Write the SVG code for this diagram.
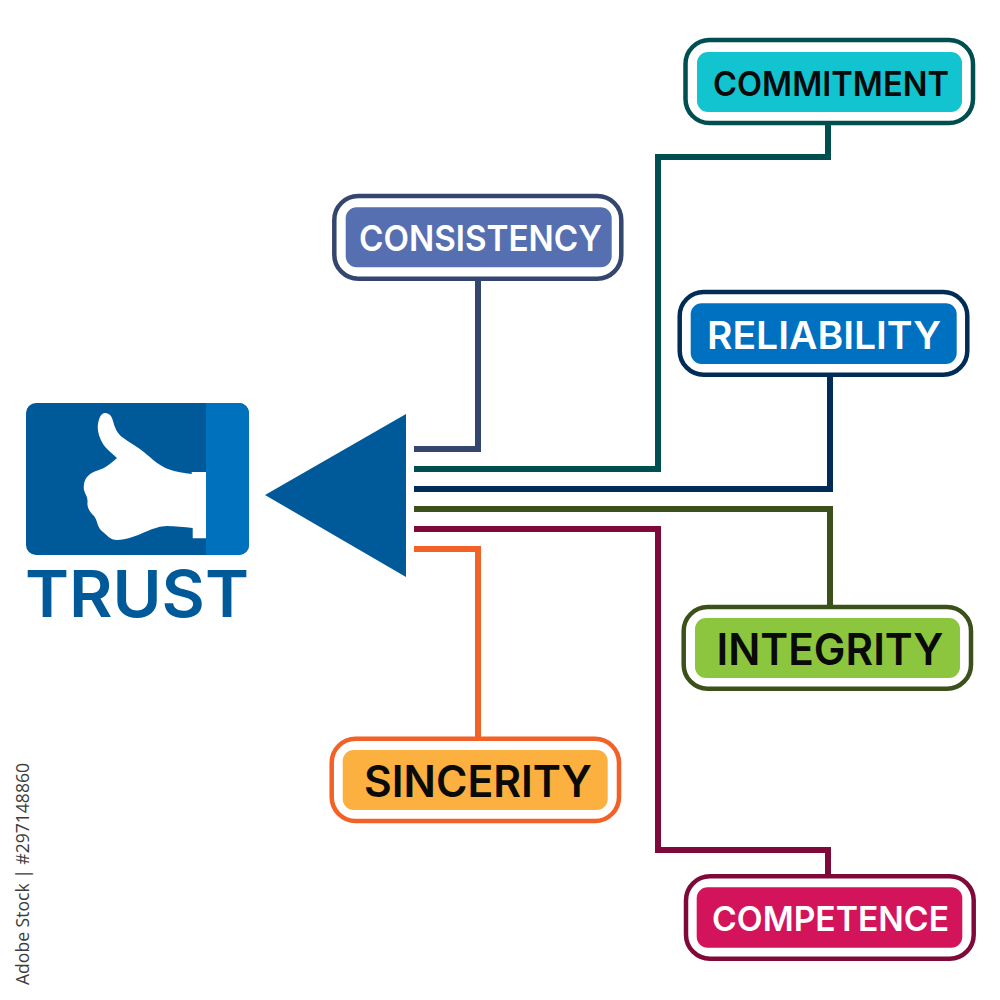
<svg xmlns="http://www.w3.org/2000/svg" width="1000" height="1000" viewBox="0 0 1000 1000">
<style>
.c{fill:none;stroke-width:6;stroke-linejoin:miter}
.o{fill:#fff;stroke-width:4.500}
.l{font-family:"Inter","Liberation Sans",sans-serif;font-weight:600}
.k{fill:#0a0a0a}.w{fill:#fff}
</style>
<rect width="1000" height="1000" fill="#fff"/>
<text transform="translate(29,985) rotate(-90)" font-family="'Open Sans','Liberation Sans',sans-serif" font-size="19" fill="#3c3c3c" textLength="222" lengthAdjust="spacingAndGlyphs">Adobe Stock | #297148860</text>
<g id="trust">
<rect x="26" y="403" width="223" height="152" rx="10" fill="#005a9a"/>
<path d="M206 403H239a10 10 0 0 1 10 10V545a10 10 0 0 1-10 10H206Z" fill="#0071bc"/>
<path d="M105 413C110 413 112 417 113 421C115 428 117 433 122 437C130 443 138 447 145 453C152 459 160 466 168 469C176 472 184 473 191.700 474V472H206V538.300H192.700V528C184 527 175 526 167 526C160 526 152 529 145 532C136 536 126 540 117 540C110 540 107 535 103 532C97 528 98 521 94 516C89 511 87 507 87.500 502C88 497 85 494 84 490C83 484 85 478 89 475C95 470 102 470 107 466C111 463 114 461 117 458C112 453 106 449 103 444C99 437 97 430 98 424C99 418 101 413 105 413Z" fill="#fff"/>
<text x="25" y="617" font-family="Inter,'Liberation Sans',sans-serif" font-size="65" font-weight="600" fill="#005a9a" textLength="224" lengthAdjust="spacingAndGlyphs">TRUST</text>
</g>
<polygon id="pointer" points="265,495 406,414 406,577" fill="#005a9a"/>
<g id="connectors">
<path class="c" stroke="#34466f" d="M414 449H478V279"/>
<path class="c" stroke="#004f50" d="M414 469H658V157H828V124"/>
<path class="c" stroke="#012c55" d="M414 489H830V375"/>
<path class="c" stroke="#3b5119" d="M414 509H830V606"/>
<path class="c" stroke="#7f0a3a" d="M414 529H658V850H828V876"/>
<path class="c" stroke="#f26125" d="M414 549H478V738"/>
</g>
<g id="commitment">
<rect class="o" x="685.500" y="40" width="287.500" height="83" rx="24" stroke="#004f50"/>
<rect x="697" y="52" width="265" height="60" rx="11" fill="#12c4d0"/>
<text class="l k" font-size="34" x="713" y="95.500" textLength="236" lengthAdjust="spacingAndGlyphs">COMMITMENT</text>
</g>
<g id="consistency">
<rect class="o" x="334.300" y="196" width="287" height="82.700" rx="24" stroke="#34466f"/>
<rect x="345.700" y="207.300" width="266" height="60" rx="11" fill="#566fb0"/>
<text class="l w" font-size="36" x="359" y="250.500" textLength="243" lengthAdjust="spacingAndGlyphs">CONSISTENCY</text>
</g>
<g id="reliability">
<rect class="o" x="679.700" y="292" width="287.600" height="82.700" rx="24" stroke="#012c55"/>
<rect x="690.700" y="303.300" width="266" height="60.700" rx="11" fill="#0070c0"/>
<text class="l w" font-size="38" x="707" y="349" textLength="234" lengthAdjust="spacingAndGlyphs">RELIABILITY</text>
</g>
<g id="integrity">
<rect class="o" x="683.700" y="607" width="287.300" height="81.700" rx="24" stroke="#3b5119"/>
<rect x="695" y="618" width="265" height="60" rx="11" fill="#8cc63f"/>
<text class="l k" font-size="44" x="716.500" y="665" textLength="227" lengthAdjust="spacingAndGlyphs">INTEGRITY</text>
</g>
<g id="sincerity">
<rect class="o" x="331.700" y="738.700" width="287.300" height="82.300" rx="24" stroke="#f26125"/>
<rect x="342.700" y="750" width="265" height="60" rx="11" fill="#fbb040"/>
<text class="l k" font-size="43.500" x="364" y="796.700" textLength="228" lengthAdjust="spacingAndGlyphs">SINCERITY</text>
</g>
<g id="competence">
<rect class="o" x="686" y="876.300" width="287.700" height="82.400" rx="24" stroke="#7f0a3a"/>
<rect x="696.700" y="887.300" width="265.600" height="60.400" rx="11" fill="#d4145a"/>
<text class="l w" font-size="34" x="712" y="930.700" textLength="237" lengthAdjust="spacingAndGlyphs">COMPETENCE</text>
</g>
</svg>
